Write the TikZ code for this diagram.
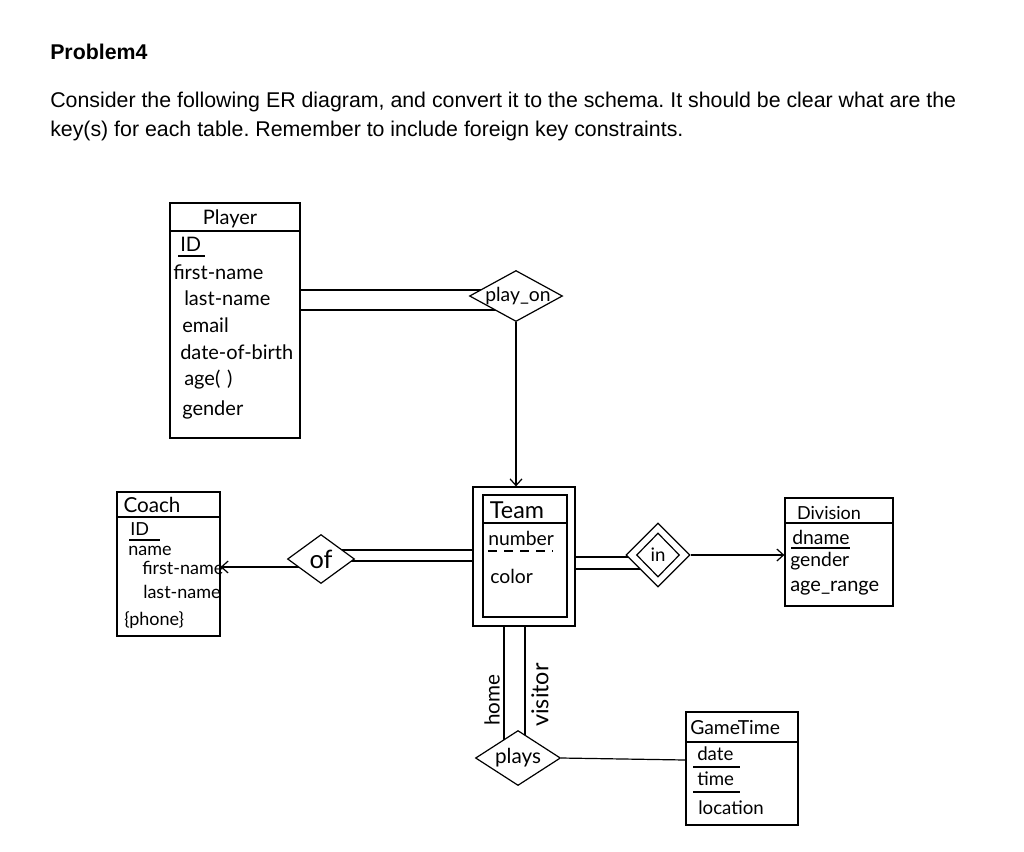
\documentclass[tikz,border=0pt]{standalone}
\usepackage{fontspec}
\setmainfont{Liberation Sans}
\newfontfamily\handfont{Lato}
\usetikzlibrary{shapes.geometric,arrows.meta,backgrounds}
\frenchspacing
\begin{document}
\begin{tikzpicture}[x=0.75pt,y=-0.75pt,
  ent/.style={draw, fill=white, line width=0.9pt, inner sep=0pt},
  rel/.style={draw, fill=white, diamond, line width=0.9pt, inner sep=0pt},
  lbl/.style={font=\handfont\fontsize{13.5}{15}\selectfont, inner sep=0pt},
  big/.style={font=\handfont\fontsize{15}{17}\selectfont},
  att/.style={lbl, anchor=west},
  conn/.style={line width=0.9pt},
  arr/.style={conn, -{Straight Barb[length=5pt,width=9pt]}},
  hdr/.style={font=\fontsize{16}{19}\selectfont, anchor=west, inner sep=0pt}]
\useasboundingbox (0,0) rectangle (1024,851);

% header
\node[hdr, font=\bfseries\fontsize{16}{19}\selectfont] (title) at (50,52) {Problem4};
\node[hdr] (l1) at (50,102) {Consider the following ER diagram, and convert it to the schema. It should be clear what are the};
\node[hdr] (l2) at (50,131) {key(s) for each table. Remember to include foreign key constraints.};

% entities
\node[ent, minimum width=0.75pt*130, minimum height=0.75pt*235] (player) at (235,320.5) {};
\node[ent, minimum width=0.75pt*103, minimum height=0.75pt*144] (coach) at (168.5,564) {};
\node[ent, minimum width=0.75pt*102, minimum height=0.75pt*139] (team) at (524,556.5) {};
\node[ent, minimum width=0.75pt*84, minimum height=0.75pt*122] (teamin) at (525,556) {};
\node[ent, minimum width=0.75pt*108, minimum height=0.75pt*108] (div) at (839,552) {};
\node[ent, minimum width=0.75pt*112, minimum height=0.75pt*113] (gt) at (742,768.5) {};

% relationships
\node[rel, minimum width=0.75pt*93, minimum height=0.75pt*51] (pon) at (516,296) {};
\node[rel, minimum width=0.75pt*67, minimum height=0.75pt*49] (of) at (321,559) {};
\node[rel, minimum width=0.75pt*64, minimum height=0.75pt*64] (in) at (658,555) {};
\node[rel, minimum width=0.75pt*43, minimum height=0.75pt*44] (inin) at (658,555) {};
\node[rel, minimum width=0.75pt*85, minimum height=0.75pt*55] (plays) at (518,758) {};

\node[lbl, font=\handfont\fontsize{14.5}{16}\selectfont] (ponl) at (518,296) {play\_on};
\node[lbl, font=\handfont\fontsize{19}{21}\selectfont] (ofl) at (of) {of};
\node[lbl, font=\handfont\fontsize{14}{16}\selectfont] (inl) at (in) {in};
\node[lbl, font=\handfont\fontsize{15.5}{17}\selectfont] (playsl) at (plays) {plays};

% connectors (under the shapes)
\begin{scope}[on background layer]
  \draw[conn] (player.east |- 0,290) -- (pon.center |- 0,290);
  \draw[conn] (player.east |- 0,310) -- (pon.center |- 0,310);
  \draw[conn] (of.center |- 0,550) -- (team.west |- 0,550);
  \draw[conn] (of.center |- 0,561) -- (team.west |- 0,561);
  \draw[conn] (team.east |- 0,557) -- (in.center |- 0,557);
  \draw[conn] (team.east |- 0,569) -- (in.center |- 0,569);
  \draw[conn] (team.south -| 504,0) -- (plays.center -| 504,0);
  \draw[conn] (team.south -| 525,0) -- (plays.center -| 525,0);
  \draw[conn] (of.center |- 0,567) -- (of.west |- 0,567);
\end{scope}
\draw[arr] (pon.south) -- (pon.south |- team.north);
\draw[arr] (of.west |- 0,567) -- (coach.east |- 0,567);
\draw[arr] (in.east) -- (div.west |- in.east);
\draw[conn] (plays.east) -- (gt.west |- 0,760);

% separators
\draw[conn] (player.west |- 0,231) -- (player.east |- 0,231);
\draw[conn] (coach.west |- 0,517) -- (coach.east |- 0,517);
\draw[conn] (teamin.west |- 0,523) -- (teamin.east |- 0,523);
\draw[conn] (div.west |- 0,523) -- (div.east |- 0,523);
\draw[conn] (gt.west |- 0,742) -- (gt.east |- 0,742);

% Player attributes
\node[lbl, big] (pt) at (230,219) {Player};
\node[att, big] (pid) at (180,244) {ID};
\node[att, big] (pfn) at (173,272) {first-name};
\node[att, big] (pln) at (184,298) {last-name};
\node[att, big] (pem) at (182,325) {email};
\node[att, big] (pdob) at (180,352) {date-of-birth};
\node[att, big] (page) at (184,380) {age(\,\,)};
\node[att, big] (pgen) at (182,410) {gender};
\draw[conn] (178,256) -- (205,256);

% Coach attributes
\node[lbl, font=\handfont\fontsize{15.5}{17}\selectfont] (ct) at (152,505) {Coach};
\node[att] (cid) at (130,529) {ID};
\draw[conn] (129,540) -- (160,540);
\node[att] (cname) at (128,551) {name};
\node[att] (cfn) at (142,568) {first-name};
\node[att] (cln) at (143,592) {last-name};
\node[att] (cph) at (124,620) {\{phone\}};

% Team attributes
\node[lbl, font=\handfont\fontsize{17.5}{19}\selectfont] (tt) at (517,510) {Team};
\node[att, font=\handfont\fontsize{14.5}{16}\selectfont] (tnum) at (488,538) {number};
\draw[conn, dash pattern=on 7pt off 5pt] (488,551) -- (553,551);
\node[att, font=\handfont\fontsize{14.5}{16}\selectfont] (tcol) at (490,576) {color};

% Division attributes
\node[lbl] (dt) at (829,513) {Division};
\node[att, font=\handfont\fontsize{14.5}{16}\selectfont] (dname) at (792,537) {dname};
\draw[conn] (791,548) -- (850,548);
\node[att, font=\handfont\fontsize{14.5}{16}\selectfont] (dgen) at (790,561) {gender};
\node[att, font=\handfont\fontsize{15}{16}\selectfont] (dage) at (790,588) {age\_range};

% GameTime attributes
\node[att, font=\handfont\fontsize{14.5}{16}\selectfont] (gtt) at (690,728) {GameTime};
\node[att, font=\handfont\fontsize{14}{16}\selectfont] (gdate) at (697,754) {date};
\draw[conn] (693,767) -- (740,767);
\node[att, font=\handfont\fontsize{14}{16}\selectfont] (gtime) at (697,779) {time};
\draw[conn] (693,792) -- (740,792);
\node[att, font=\handfont\fontsize{14}{16}\selectfont] (gloc) at (698,808) {location};

% role labels
\node[lbl, rotate=90, font=\handfont\fontsize{15.5}{17}\selectfont] (home) at (492,700) {home};
\node[lbl, rotate=90, font=\handfont\fontsize{17.5}{19}\selectfont] (vis) at (540,695) {visitor};
\end{tikzpicture}
\end{document}
